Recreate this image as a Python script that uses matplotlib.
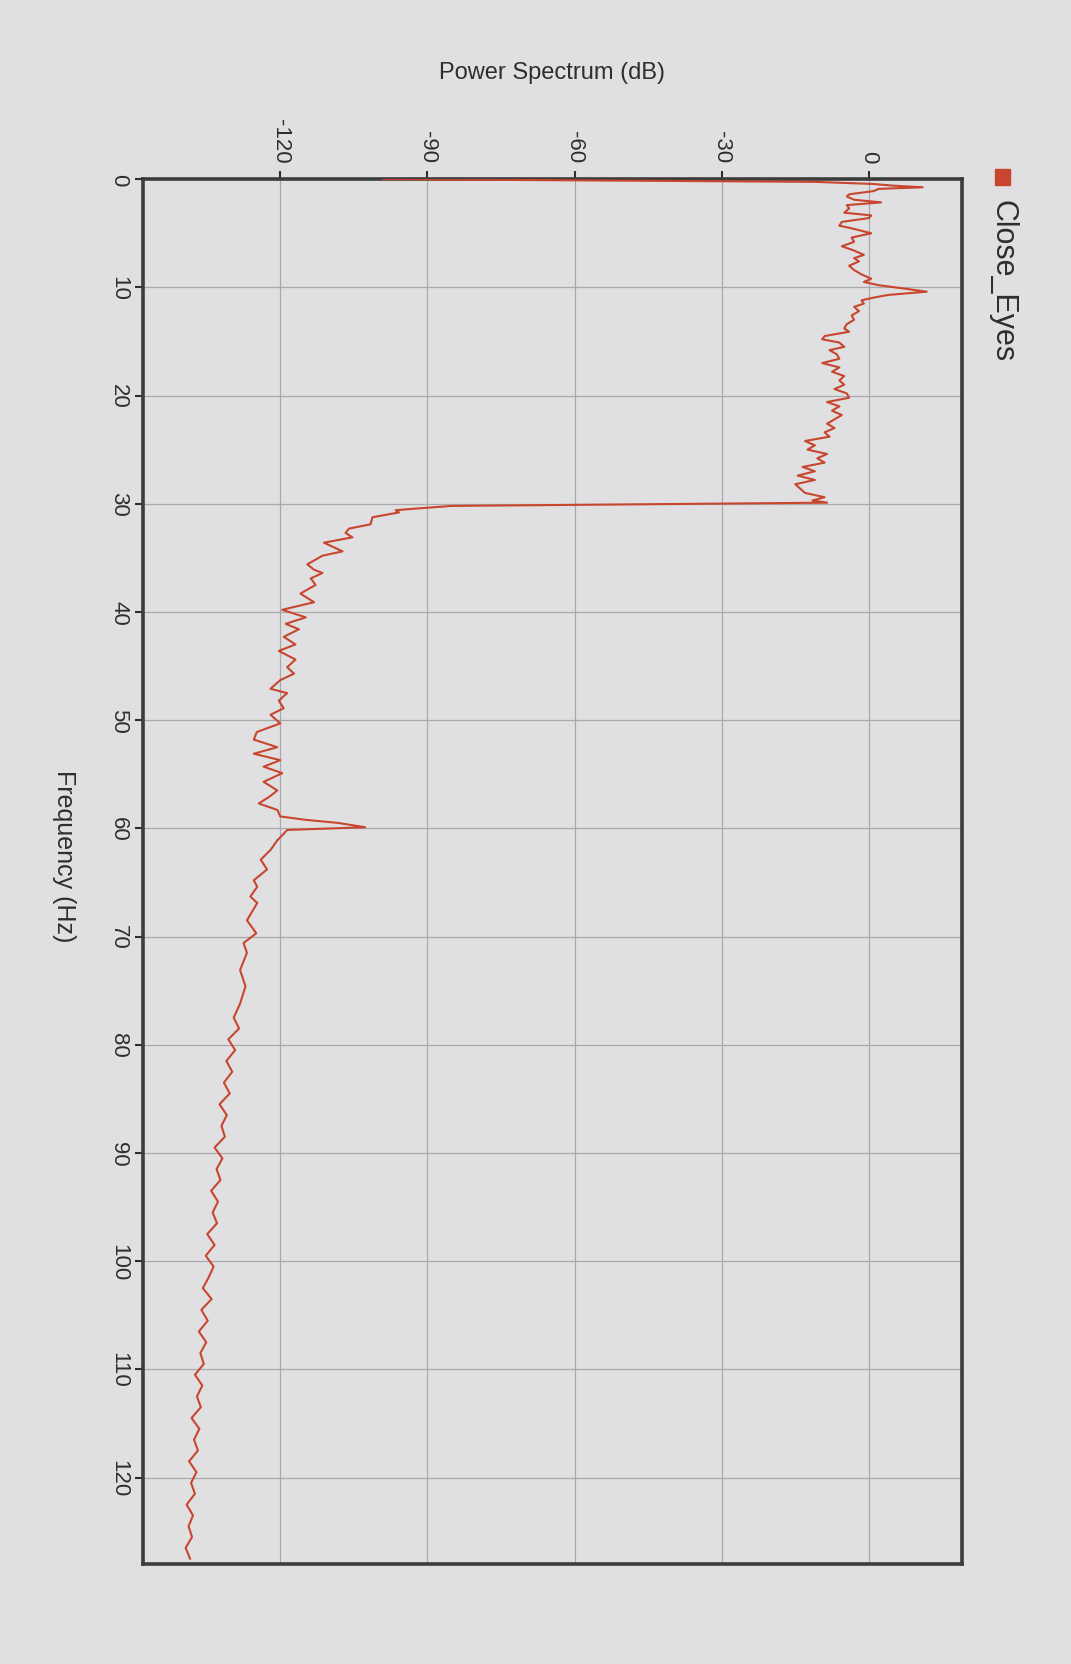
import matplotlib.pyplot as plt
from matplotlib.patches import Rectangle

# ----------------------------------------
# Power spectrum, shown rotated (as on the photographed screen)
# ----------------------------------------

plt.rcParams['font.family'] = ['Liberation Sans', 'DejaVu Sans']
plt.rcParams['axes.unicode_minus'] = False

series_name = "Close_Eyes"

# frequency (Hz) and power (dB)
freq_hz = [
    0, 0.25, 0.45, 0.6, 0.75, 0.9, 1.1, 1.4, 1.6, 1.9, 2.15, 2.4, 2.7, 3.1,
    3.35, 3.6, 3.95, 4.3, 4.6, 5.0, 5.4, 5.8, 6.2, 6.6, 7.0, 7.3, 7.6, 8.0,
    8.4, 8.8, 9.2, 9.5, 9.8, 10.1, 10.4, 10.7, 10.9, 11.2, 11.5, 11.8, 12.2,
    12.6, 13.0, 13.4, 13.8, 14.1, 14.5, 14.8, 15.1, 15.5, 15.8, 16.2, 16.6,
    17.0, 17.4, 17.8, 18.2, 18.6, 19.0, 19.4, 19.8, 20.2, 20.6, 21.0, 21.4,
    21.8, 22.2, 22.6, 23.0, 23.4, 23.8, 24.2, 24.6, 25.0, 25.4, 25.8, 26.2,
    26.6, 27.0, 27.4, 27.8, 28.2, 28.6, 29.0, 29.4, 29.7, 29.9,
    30.1, 30.2, 30.47, 30.6, 30.8, 31.25, 31.9, 32.3, 32.7, 33.1, 33.6, 34.1,
    34.4, 34.8, 35.6, 36.1, 36.4, 36.9, 37.5, 38.3, 39.1, 39.8, 40.5, 41.1,
    41.6, 42.3, 43.0, 43.6, 44.4, 45.1, 45.7, 46.3, 47.1, 47.5, 48.2, 48.9,
    49.5, 50.3, 51.1, 51.8, 52.5, 53.1, 53.7, 54.3, 54.9, 55.7, 56.5, 57.1,
    57.7, 58.3, 58.9, 59.2, 59.5, 59.9, 60.15, 60.5, 61.1, 62.0, 62.9, 63.8,
    64.8, 65.4, 66.3, 66.9, 68.5, 69.7, 70.6, 71.5, 73.1, 74.6, 76.2,
    77.5, 78.5, 79.5, 80.5, 81.5, 82.5, 83.5, 84.5, 85.5, 86.5, 87.5, 88.5,
    89.5, 90.5, 91.5, 92.5, 93.5, 94.5, 95.5, 96.5, 97.5, 98.5, 99.5, 100.5,
    101.5, 102.5, 103.5, 104.5, 105.5, 106.5, 107.5, 108.5, 109.5, 110.5,
    111.5, 112.5, 113.5, 114.5, 115.5, 116.5, 117.5, 118.5, 119.5, 120.5,
    121.5, 122.5, 123.5, 124.5, 125.5, 126.5, 127.5,
]
power_db = [
    -99, -11, 1, 5, 11, 2, 1, -4, -4.5, -3, 2.5, -4.5, -4, -5,
    0.5, 0, -5.5, -6, -3, 0.5, -3.5, -3, -5.5, -3, -1, -3, -2, -4,
    -3, -1.5, 0.5, -1, 2, 7, 11.8, 4, 1.5, -1.5, -1, -3, -2,
    -3.5, -3, -4.5, -5, -4, -9, -9.5, -6, -5, -8, -6.5, -6,
    -9.5, -6, -7.5, -5, -6, -5, -7, -4.5, -4, -8.5, -6, -7.5,
    -5.5, -7, -8.5, -7, -9, -8, -13, -11, -12.5, -8.5, -10.5, -9,
    -13.5, -11, -14.5, -11, -15, -14, -13, -9, -11.5, -8.5,
    -60, -85, -93, -96.5, -95.8, -101.2, -101.6, -106, -106.7, -105.3, -111.1, -108.7,
    -107.3, -111.4, -114.5, -113.1, -111.4, -113.8, -112.8, -115.9, -113.1, -119.6, -114.8, -118.9,
    -116.2, -119.3, -116.9, -120.3, -116.9, -118.6, -117.2, -120, -122, -118.6, -120.3, -119.3,
    -122, -120, -124.8, -125.4, -120.6, -125.4, -120, -123.4, -119.6, -123.4, -120.6, -122.3,
    -124.4, -120.6, -120, -115.1, -108.2, -102.7, -118.6, -119.3, -120.6, -122, -124, -122.7,
    -125.4, -124.7, -126.1, -124.7, -126.8, -124.9, -127.5, -126.8, -128.2, -127.1, -128.2,
    -129.5, -128.4, -130.6, -129.2, -131.0, -129.8, -131.5, -130.3, -132.4, -130.9, -132.0, -131.3,
    -133.4, -131.8, -133.0, -132.2, -134.1, -132.7, -133.8, -132.9, -134.9, -133.4, -135.2, -133.6,
    -134.6, -135.8, -134.0, -136.1, -134.8, -136.6, -135.1, -136.3, -135.6, -137.4,
    -135.9, -137.0, -136.2, -138.1, -136.5, -137.6, -136.8, -138.6, -137.1, -138.2,
    -137.4, -139.1, -137.8, -138.7, -138.0, -139.3, -138.4,
]

db_ticks = [0, -30, -60, -90, -120]
freq_ticks = [0, 10, 20, 30, 40, 50, 60, 70, 80, 90, 100, 110, 120]

bg = '#e0e0e3'
dark = '#2e2e2e'
red = '#c8462e'

fig = plt.figure(figsize=(10.71, 16.65), dpi=100, facecolor=bg)
ax = fig.add_axes([0.1335, 0.060, 0.7647, 0.8318], facecolor=bg)

# rotated view: power along x, frequency running downwards
ax.plot(power_db, freq_hz, color=red, linewidth=1.5, zorder=3)

ax.set_xlim(-148, 19)
ax.set_ylim(128, 0)

ax.xaxis.tick_top()
ax.set_xticks(db_ticks)
ax.set_xticklabels([str(v) for v in db_ticks], rotation=-90)
ax.set_yticks(freq_ticks)
ax.set_yticklabels([str(v) for v in freq_ticks], rotation=-90, va='center')
ax.tick_params(axis='both', labelsize=16, length=6, width=1.5,
               color=dark, labelcolor=dark, pad=4)
ax.tick_params(axis='x', pad=6)

ax.grid(True, color='#a9a9ac', linewidth=0.9)
ax.set_axisbelow(True)
for s in ax.spines.values():
    s.set_color('#3c3c3c')
    s.set_linewidth(2.6)

ax.xaxis.set_label_position('top')
ax.set_xlabel("Power Spectrum (dB)", fontsize=17, color=dark)
ax.xaxis.set_label_coords(0.5, 1.073)
ax.set_ylabel("Frequency (Hz)", fontsize=18, color=dark, rotation=-90,
              va='center', ha='center')
ax.yaxis.set_label_coords(-0.096, 0.512)

# legend entry, rotated like the rest of the screen
fig.patches.append(Rectangle((0.9295, 0.8885), 0.014, 0.0095,
                             transform=fig.transFigure, color=red))
fig.text(0.9365, 0.880, series_name, rotation=-90, ha='center', va='top',
         fontsize=22, color=dark)

fig.savefig("out.png", dpi=100, facecolor=bg)
